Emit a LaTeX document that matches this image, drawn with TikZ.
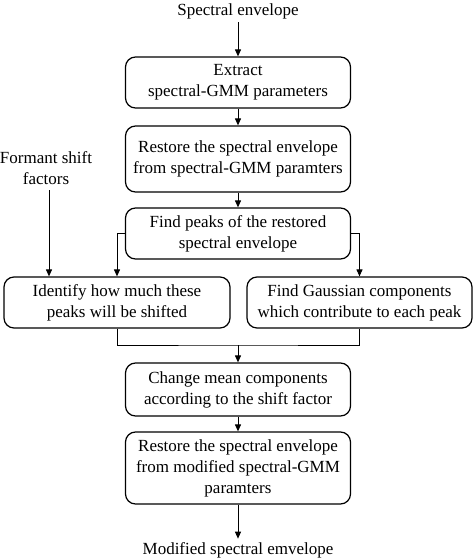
\documentclass[tikz,border=0pt]{standalone}
\usepackage{fontspec}
\setmainfont{Liberation Serif}
\usetikzlibrary{arrows.meta}

\begin{document}
\begin{tikzpicture}[x=1pt, y=1pt,
    font=\fontsize{17}{21}\selectfont,
    box/.style={draw, rounded corners=10pt, line width=1.2pt, align=center, minimum width=225pt, inner sep=0pt},
    arr/.style={line width=1pt, -{Triangle[length=7pt, width=6pt]}}]

    \useasboundingbox (0,0) rectangle (474,-560);

    \node (src) at (238,-11) {Spectral envelope};
    \node[box, minimum height=51pt] (ext) at (238,-82.5) {Extract\\spectral-GMM parameters};
    \node[box, minimum height=66pt] (rest) at (238,-159) {Restore the spectral envelope\\from spectral-GMM paramters};
    \node[box, minimum height=51pt] (peak) at (238,-233.5) {Find peaks of the restored\\spectral envelope};

    \node[align=center] (fsf) at (46,-168) {Formant shift\\factors};

    \node[box, minimum height=51pt, minimum width=226pt] (iden) at (117,-302.5) {Identify how much these\\peaks will be shifted};
    \node[box, minimum height=51pt] (gaus) at (359.5,-302.5) {Find Gaussian components\\which contribute to each peak};

    \node[box, minimum height=53pt] (chg) at (238,-389.5) {Change mean components\\according to the shift factor};
    \node[box, minimum height=72pt] (rest2) at (238,-468) {Restore the spectral envelope\\from modified spectral-GMM\\paramters};
    \node (out) at (238,-550) {Modified spectral emvelope};

    \draw[arr] (src) -- (ext);
    \draw[arr] (ext) -- (rest);
    \draw[arr] (rest) -- (peak);
    \draw[arr] (peak.west) -| (iden.north);
    \draw[arr] (peak.east) -| (gaus.north);
    \draw[arr] ([xshift=3pt, yshift=-2pt]fsf.south) -- ([xshift=3pt]fsf.south |- iden.north);

    \coordinate (mrg) at (238,-345);
    \draw[line width=1pt] (iden.south) |- (mrg) -| (gaus.south);
    \draw[arr] (mrg) -- (chg);
    \draw[arr] (chg) -- (rest2);
    \draw[arr] (rest2) -- (out);

\end{tikzpicture}
\end{document}
